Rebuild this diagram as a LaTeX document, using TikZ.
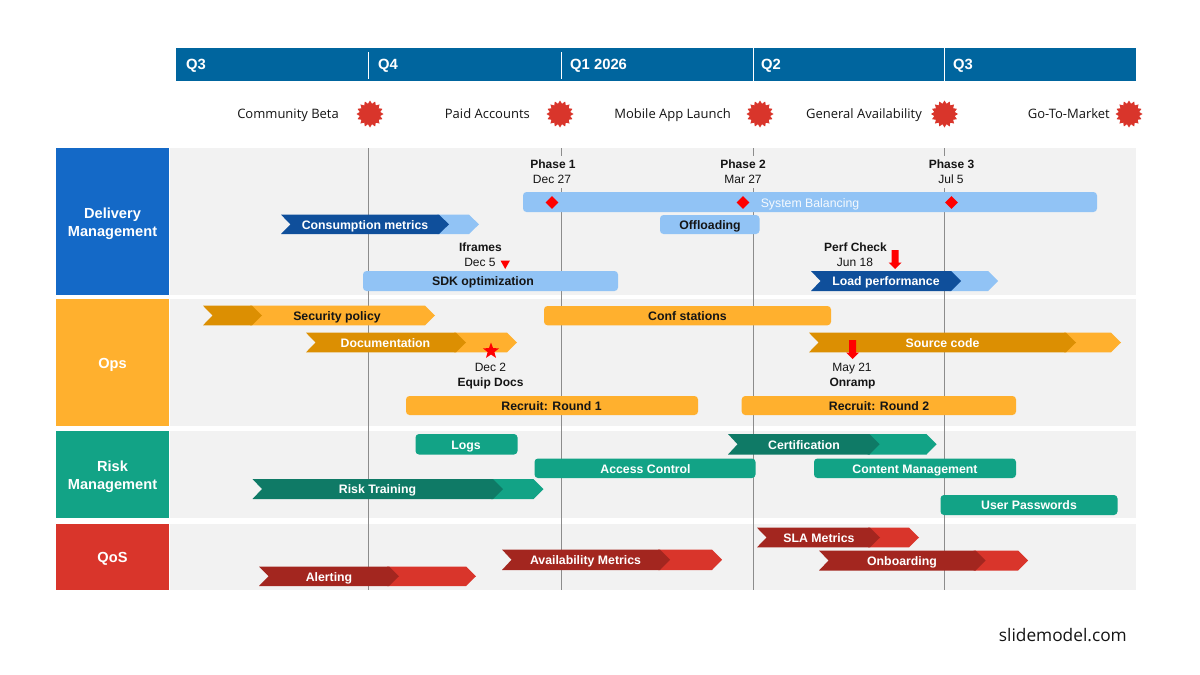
\documentclass[tikz,border=0pt]{standalone}
\usepackage{fontspec}
\setmainfont{Liberation Sans}
\newfontfamily\openfont{Open Sans}
\usetikzlibrary{shapes.geometric}

\definecolor{headblue}{HTML}{00659E}
\definecolor{burstred}{HTML}{D9352B}
\definecolor{panelgray}{HTML}{F2F2F2}
\definecolor{rulegray}{HTML}{8C8C8C}
\definecolor{blueband}{HTML}{1469C7}
\definecolor{bluelight}{HTML}{91C3F5}
\definecolor{bluedark}{HTML}{0F4F9B}
\definecolor{orangeband}{HTML}{FFB02E}
\definecolor{orangedark}{HTML}{DC8F02}
\definecolor{tealband}{HTML}{12A386}
\definecolor{tealdark}{HTML}{0F7A66}
\definecolor{reddark}{HTML}{A3261F}
\definecolor{markred}{HTML}{FF0000}
\definecolor{inkblack}{HTML}{151515}

\tikzset{
  line text/.style={text height=9pt, text depth=0pt},
  band/.style={font=\fontsize{14.6}{18}\selectfont\bfseries, text=white, align=center},
  quarter/.style={line text, font=\fontsize{14.8}{16}\selectfont\bfseries, text=white, anchor=west, inner sep=0pt},
  launch/.style={line text, font=\openfont\fontsize{13}{16}\selectfont, text=inkblack, anchor=east, inner sep=0pt},
  burst/.style={star, star points=16, star point ratio=1.3, minimum size=27pt, inner sep=0pt, fill=burstred},
  bartext/.style={line text, font=\fontsize{12.3}{14}\selectfont\bfseries, text=inkblack, inner sep=0pt},
  barwhite/.style={bartext, text=white},
  bold/.style={line text, font=\fontsize{12}{14}\selectfont\bfseries, text=inkblack, inner sep=1pt},
  datetext/.style={line text, font=\fontsize{12}{14}\selectfont, text=inkblack, inner sep=1pt},
  mask/.style={fill=panelgray, inner ysep=4pt},
  gem/.style={diamond, fill=markred, minimum size=13pt, inner sep=0pt},
  redmark/.style={fill=markred},
  round bar/.style={rounded corners=3.5pt},
  grid rule/.style={draw=rulegray, line width=1pt}
}

% name, left, end of dark part, tip, top, bottom, dark colour, light colour
\newcommand{\chevbar}[8]{
  \fill[#8] ({#3-12},#5) -- ({#4-10},#5) -- (#4,{(#5+#6)/2}) -- ({#4-10},#6) -- ({#3-12},#6) -- cycle;
  \fill[#7] (#2,#5) coordinate (#1) -- ({#3-10},#5) -- (#3,{(#5+#6)/2}) -- ({#3-10},#6) -- (#2,#6)
    -- ({#2+9.5},{(#5+#6)/2}) -- cycle;
}

\begin{document}
\begin{tikzpicture}[x=1pt, y=-1pt]
  \useasboundingbox[fill=white] (0,0) rectangle (1200,675);

  % quarters
  \fill[headblue] (176,48) rectangle (1136,80.5);
  \draw[white, line width=0.9pt] (368.5,52) -- (368.5,79);
  \draw[white, line width=0.9pt] (561,52) -- (561,79);
  \draw[white, line width=0.9pt] (753,48) -- (753,80.5);
  \draw[white, line width=0.9pt] (944.5,48) -- (944.5,80.5);
  \node[quarter] (q3a) at (186,65) {Q3};
  \node[quarter] (q4) at (378,65) {Q4};
  \node[quarter] (q1) at (570,65) {Q1 2026};
  \node[quarter] (q2) at (761,65) {Q2};
  \node[quarter] (q3b) at (953,65) {Q3};

  % launches
  \node[launch] (beta) at (339,114) {Community Beta};
  \node[burst] (betaburst) at (370,114) {};
  \node[launch] (paid) at (530,114) {Paid Accounts};
  \node[burst] (paidburst) at (560,114) {};
  \node[launch] (mobile) at (731,114) {Mobile App Launch};
  \node[burst] (mobileburst) at (760,114) {};
  \node[launch] (general) at (922,114) {General Availability};
  \node[burst] (generalburst) at (944.5,114) {};
  \node[launch] (market) at (1110,114) {Go-To-Market};
  \node[burst] (marketburst) at (1129,114) {};

  % rows
  \fill[panelgray] (170,148) rectangle (1136,294.5);
  \fill[panelgray] (170,299) rectangle (1136,426);
  \fill[panelgray] (170,431) rectangle (1136,518);
  \fill[panelgray] (170,524) rectangle (1136,590);
  \fill[blueband] (56,148) rectangle (169,294.5);
  \fill[orangeband] (56,299) rectangle (169,426);
  \fill[tealband] (56,431) rectangle (169,518);
  \fill[burstred] (56,524) rectangle (169,590);
  \node[band] (delivery) at (112.5,223.5) {Delivery\\Management};
  \node[band] (ops) at (112.5,364.5) {Ops};
  \node[band] (risk) at (112.5,476.5) {Risk\\Management};
  \node[band] (qos) at (112.5,559) {QoS};

  \draw[grid rule] (368.5,148) -- (368.5,590);
  \draw[grid rule] (561,148) -- (561,590);
  \draw[grid rule] (753,148) -- (753,590);
  \draw[grid rule] (944.5,148) -- (944.5,590);

  % delivery management
  \node[bold, mask] (phase1) at (553,164) {Phase 1};
  \node[datetext, mask] (date1) at (552,179) {Dec 27};
  \node[bold, mask] (phase2) at (743,164) {Phase 2};
  \node[datetext, mask] (date2) at (743,179) {Mar 27};
  \node[bold, mask] (phase3) at (951.5,164) {Phase 3};
  \node[datetext, mask] (date3) at (951,179) {Jul 5};
  \fill[bluelight, round bar] (523,192) rectangle (1097,212);
  \node[line text, font=\fontsize{12.3}{14}\selectfont, text=white!92!bluelight, inner sep=0pt] (balancing) at (810,202.5) {System Balancing};
  \node[gem] (gem1) at (552,202.5) {};
  \node[gem] (gem2) at (743,202.5) {};
  \node[gem] (gem3) at (951.5,202.5) {};
  \chevbar{consumption}{281}{449}{479}{214.7}{234}{bluedark}{bluelight}
  \node[barwhite] (consumptiontext) at (365,224.5) {Consumption metrics};
  \fill[bluelight, round bar] (660,215) rectangle (759.5,234);
  \node[bartext] (offloading) at (710,225) {Offloading};
  \node[bold] (iframes) at (480.5,247) {Iframes};
  \node[datetext] (iframesdate) at (480,262) {Dec 5};
  \fill[markred] (500.5,260.5) -- (510,260.5) -- (505.2,269) -- cycle;
  \fill[bluelight, round bar] (363,271) rectangle (618,291);
  \node[bartext] (sdk) at (483,281) {SDK optimization};
  \node[bold] (perf) at (855.5,247) {Perf Check};
  \node[datetext] (perfdate) at (855,262) {Jun 18};
  \chevbar{load}{811}{961}{998}{271}{291}{bluedark}{bluelight}
  \node[barwhite] (loadtext) at (886,281) {Load performance};
  \coordinate (perfarrow) at (895,250);
  \fill[redmark] (perfarrow) ++(-3.5,0) -- ++(7,0) -- ++(0,12.5) -- ++(3,0) -- ++(-6.5,6.5) -- ++(-6.5,-6.5) -- ++(3,0) -- cycle;

  % ops
  \chevbar{security}{203}{262}{435}{305.7}{325.3}{orangedark}{orangeband}
  \node[bartext] (securitytext) at (337,315.5) {Security policy};
  \fill[orangeband, round bar] (544,306) rectangle (831,325.3);
  \node[bartext] (conf) at (687.5,315.5) {Conf stations};
  \chevbar{documentation}{306}{466}{517}{332.7}{352.3}{orangedark}{orangeband}
  \node[barwhite] (documentationtext) at (385.5,342.5) {Documentation};
  \node[star, star points=5, star point ratio=2.4, fill=markred, minimum size=17pt, inner sep=0pt] (docstar) at (491,351) {};
  \node[datetext] (docdate) at (490.5,367) {Dec 2};
  \node[bold] (docname) at (490.5,382) {Equip Docs};
  \chevbar{source}{809}{1076}{1121}{332.7}{352.3}{orangedark}{orangeband}
  \node[barwhite] (sourcetext) at (942.5,342.5) {Source code};
  \coordinate (onramparrow) at (852.5,340);
  \fill[redmark] (onramparrow) ++(-3.5,0) -- ++(7,0) -- ++(0,12.5) -- ++(3,0) -- ++(-6.5,6.5) -- ++(-6.5,-6.5) -- ++(3,0) -- cycle;
  \node[datetext] (onrampdate) at (852,367) {May 21};
  \node[bold] (onramp) at (852.5,382) {Onramp};
  \fill[orangeband, round bar] (406,396) rectangle (698,415);
  \node[bartext] (round1) at (551.5,406) {Recruit: Round 1};
  \fill[orangeband, round bar] (741.7,396) rectangle (1016,415);
  \node[bartext] (round2) at (879,406) {Recruit: Round 2};

  % risk management
  \fill[tealband, round bar] (415.5,434) rectangle (517.5,454.5);
  \node[barwhite] (logs) at (466,445) {Logs};
  \chevbar{certification}{728}{879.5}{936.5}{434}{454.5}{tealdark}{tealband}
  \node[barwhite] (certificationtext) at (804,444.5) {Certification};
  \fill[tealband, round bar] (534.5,458.5) rectangle (755.5,478);
  \node[barwhite] (access) at (645.5,468.5) {Access Control};
  \fill[tealband, round bar] (814,458.5) rectangle (1016,478);
  \node[barwhite] (content) at (915,468.5) {Content Management};
  \chevbar{training}{252.5}{503}{543.5}{479}{499}{tealdark}{tealband}
  \node[barwhite] (trainingtext) at (377.5,489) {Risk Training};
  \fill[tealband, round bar] (940.5,495) rectangle (1117.5,515);
  \node[barwhite] (passwords) at (1029,505) {User Passwords};

  % qos
  \chevbar{sla}{757}{880}{919}{527.7}{547.3}{reddark}{burstred}
  \node[barwhite] (slatext) at (819,537.5) {SLA Metrics};
  \chevbar{availability}{502}{670}{722}{549.5}{570}{reddark}{burstred}
  \node[barwhite] (availabilitytext) at (585.5,559.5) {Availability Metrics};
  \chevbar{onboarding}{819}{985.5}{1028}{550.5}{570.5}{reddark}{burstred}
  \node[barwhite] (onboardingtext) at (902,561) {Onboarding};
  \chevbar{alerting}{259}{399}{476}{566.5}{586}{reddark}{burstred}
  \node[barwhite] (alertingtext) at (329,576.5) {Alerting};

  \node[line text, font=\openfont\fontsize{17.3}{18}\selectfont, text=inkblack, anchor=east, inner sep=0pt] (brand) at (1127,637) {slidemodel.com};
\end{tikzpicture}
\end{document}
